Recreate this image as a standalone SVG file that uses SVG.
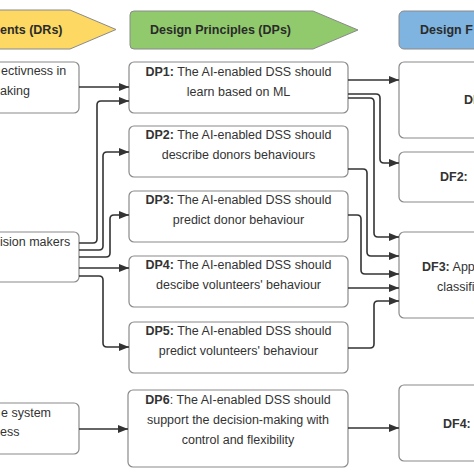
<svg xmlns="http://www.w3.org/2000/svg" width="474" height="474" viewBox="0 0 474 474">
<style>
text{font-family:"Liberation Sans",Arial,sans-serif;font-size:12.5px;fill:#333}
.b{font-weight:bold}
.hd{font-weight:bold;font-size:12.5px;fill:#2b2b2b}
.box{fill:#fff;stroke:#8a8a8a;stroke-width:1.2}
.conn path{fill:none;stroke:#333;stroke-width:1.6}
</style>
<defs>
<marker id="ah" markerUnits="userSpaceOnUse" markerWidth="10" markerHeight="8" refX="10" refY="4" orient="auto">
<path d="M0,0 L10,4 L0,8 z" fill="#333"/>
</marker>
</defs>
<rect width="474" height="474" fill="#fff"/>
<g id="hdr-drs">
<path d="M-5,10 H70 L116,29.5 L70,49 H-5 Z" fill="#fdd862" stroke="#8a8a8a" stroke-width="1"/>
<text class="hd" x="0" y="34">ents (DRs)</text>
</g>
<g id="hdr-dps">
<path d="M134,11 H313 L358,30 L313,49 H134 Q130,49 130,45 V15 Q130,11 134,11 Z" fill="#90ca6c" stroke="#8a8a8a" stroke-width="1"/>
<text class="hd" x="150" y="34">Design Principles (DPs)</text>
</g>
<g id="hdr-dfs">
<rect x="399" y="11" width="100" height="38" rx="5" fill="#7fb3e0" stroke="#8a8a8a" stroke-width="1"/>
<text class="hd" x="420" y="34">Design F</text>
</g>
<g id="dr1">
<rect class="box" x="-10" y="62" width="89" height="51" rx="5"/>
<text x="1" y="75">ectivness in</text>
<text x="0" y="95">aking</text>
</g>
<g id="dr2">
<rect class="box" x="-10" y="232" width="89" height="50" rx="5"/>
<text x="0" y="246">ision makers</text>
</g>
<g id="dr3">
<rect class="box" x="-10" y="403" width="89" height="51" rx="5"/>
<text x="1" y="417">e system</text>
<text x="0" y="436">ess</text>
</g>
<g id="dp1">
<rect class="box" x="129" y="62" width="219" height="51" rx="5"/>
<text x="238.5" y="76" text-anchor="middle"><tspan class="b">DP1:</tspan> The AI-enabled DSS should</text>
<text x="238.5" y="96" text-anchor="middle">learn based on ML</text>
</g>
<g id="dp2">
<rect class="box" x="129" y="126" width="219" height="51" rx="5"/>
<text x="238.5" y="139" text-anchor="middle"><tspan class="b">DP2:</tspan> The AI-enabled DSS should</text>
<text x="238.5" y="159" text-anchor="middle">describe donors behaviours</text>
</g>
<g id="dp3">
<rect class="box" x="129" y="191" width="219" height="51" rx="5"/>
<text x="238.5" y="204" text-anchor="middle"><tspan class="b">DP3:</tspan> The AI-enabled DSS should</text>
<text x="238.5" y="224" text-anchor="middle">predict donor behaviour</text>
</g>
<g id="dp4">
<rect class="box" x="129" y="256" width="219" height="51" rx="5"/>
<text x="238.5" y="269" text-anchor="middle"><tspan class="b">DP4:</tspan> The AI-enabled DSS should</text>
<text x="238.5" y="289" text-anchor="middle">descibe volunteers' behaviour</text>
</g>
<g id="dp5">
<rect class="box" x="129" y="322" width="219" height="51" rx="5"/>
<text x="238.5" y="335" text-anchor="middle"><tspan class="b">DP5:</tspan> The AI-enabled DSS should</text>
<text x="238.5" y="355" text-anchor="middle">predict volunteers' behaviour</text>
</g>
<g id="dp6">
<rect class="box" x="128" y="390" width="220" height="77" rx="5"/>
<text x="238" y="404" text-anchor="middle"><tspan class="b">DP6</tspan>: The AI-enabled DSS should</text>
<text x="238" y="424" text-anchor="middle">support the decision-making with</text>
<text x="238" y="444" text-anchor="middle">control and flexibility</text>
</g>
<g id="df1">
<rect class="box" x="399" y="62" width="100" height="76" rx="5"/>
<text class="b" x="464" y="104">DF1:</text>
</g>
<g id="df2">
<rect class="box" x="399" y="152" width="100" height="50" rx="5"/>
<text class="b" x="440" y="181">DF2:</text>
</g>
<g id="df3">
<rect class="box" x="399" y="232" width="100" height="86" rx="5"/>
<text x="422" y="271"><tspan class="b">DF3:</tspan> App</text>
<text x="437" y="291">classifi</text>
</g>
<g id="df4">
<rect class="box" x="399" y="385" width="100" height="76" rx="5"/>
<text class="b" x="443" y="428">DF4:</text>
</g>
<g id="connectors" class="conn">
<path marker-end="url(#ah)" d="M79,87 H129"/>
<path marker-end="url(#ah)" d="M79,243 H93 Q97,243 97,239 V105 Q97,101 101,101 H129"/>
<path marker-end="url(#ah)" d="M79,250 H99 Q103,250 103,246 V156 Q103,152 107,152 H129"/>
<path marker-end="url(#ah)" d="M79,257 H106 Q110,257 110,253 V219 Q110,215 114,215 H129"/>
<path marker-end="url(#ah)" d="M79,268 H129"/>
<path marker-end="url(#ah)" d="M79,276 H99 Q103,276 103,280 V343 Q103,347 107,347 H129"/>
<path marker-end="url(#ah)" d="M79,429 H128"/>
<path marker-end="url(#ah)" d="M348,80 H399"/>
<path marker-end="url(#ah)" d="M348,94 H376 Q380,94 380,98 V159 Q380,163 384,163 H399"/>
<path marker-end="url(#ah)" d="M348,98 H370 Q374,98 374,102 V233 Q374,237 378,237 H399"/>
<path marker-end="url(#ah)" d="M348,169 H363 Q367,169 367,173 V252 Q367,256 371,256 H399"/>
<path marker-end="url(#ah)" d="M348,215 H357 Q361,215 361,219 V270 Q361,274 365,274 H399"/>
<path marker-end="url(#ah)" d="M348,288 H399"/>
<path marker-end="url(#ah)" d="M348,348 H370 Q374,348 374,344 V305 Q374,301 378,301 H399"/>
<path marker-end="url(#ah)" d="M348,428 H399"/>
</g>
</svg>
